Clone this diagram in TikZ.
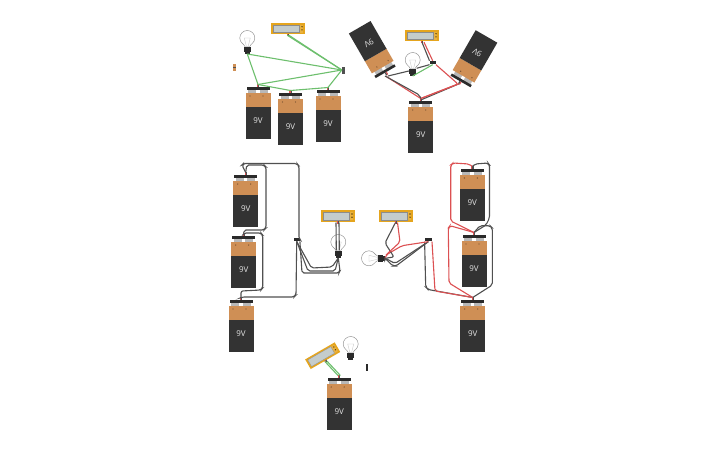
\documentclass[tikz,border=0pt]{standalone}
\usepackage{fontspec}
\setmainfont{Open Sans}
\definecolor{batdark}{HTML}{333333}
\definecolor{batorange}{HTML}{CF8F55}
\definecolor{batgray}{HTML}{B8B8B8}
\definecolor{barblack}{HTML}{2A2A2A}
\definecolor{meterrim}{HTML}{E5A51E}
\definecolor{meterlcd}{HTML}{C4CCCC}
\definecolor{wgreen}{HTML}{6DBF6D}
\definecolor{wred}{HTML}{DC5052}
\definecolor{wdark}{HTML}{505050}
\tikzset{
  x=1pt,y=-1pt,
  wiregreen/.style={draw=wgreen,line width=1.1pt,line join=round},
  wirered/.style={draw=wred,line width=1.1pt,rounded corners=2pt},
  wiredark/.style={draw=wdark,line width=1.1pt,rounded corners=2pt},
  label9v/.style={text=white!90!black,font=\fontsize{8}{9}\selectfont,inner sep=0pt,transform shape},
  smallpart/.style={fill=#1,draw=none,inner sep=0pt,transform shape},
}
% name, x, y, rotation
\newcommand{\battery}[4]{%
  \begin{scope}[shift={(#2,#3)},rotate=#4]
    \fill[batgray] (-10,2) rectangle (-2,7);
    \fill[batgray] (1.5,2) rectangle (9.5,7);
    \fill[barblack] (-11.5,0) rectangle (11.5,2.6);
    \fill[batorange] (-12.5,6) rectangle (12.5,20);
    \fill[batdark] (-12.5,20) rectangle (12.5,52);
    \fill[black!45!batorange] (-8,9) circle (.7) (5,9) circle (.7);
    \node[label9v] (#1-label) at (0,33.5) {9V};
    \fill[wred] (-1.2,-3) rectangle (0,0);
    \fill[wdark] (0,-3) rectangle (1.2,0);
    \coordinate (#1-t) at (0,-2.5);
  \end{scope}}
% name, x, y, rotation
\newcommand{\meter}[4]{%
  \begin{scope}[shift={(#2,#3)},rotate=#4]
    \node[draw=meterrim,line width=1.6pt,fill=meterrim!85!white,minimum width=32.5pt,minimum height=9.5pt,inner sep=0pt,transform shape] (#1) at (0,0) {};
    \fill[meterlcd,draw=black!45,line width=.3pt] (-15,-3.8) rectangle (11.5,3.8);
    \fill[black!55!meterrim] (14,-2) circle (.8) (14,1.2) circle (.8);
    \fill[wred] (-1.2,5.2) rectangle (0,7.5);
    \fill[wdark] (0,5.2) rectangle (1.2,7.5);
    \coordinate (#1-p) at (0,6.5);
  \end{scope}}
% name, x, y of base centre, rotation
\newcommand{\bulb}[4]{%
  \begin{scope}[shift={(#2,#3)},rotate=#4]
    \draw[black!45,line width=.45pt,fill=white] (-2.5,-3.5) .. controls (-3,-6) and (-7.5,-7) .. (-7.5,-12) arc[start angle=180,end angle=360,radius=7.5] .. controls (7.5,-7) and (3,-6) .. (2.5,-3.5) -- cycle;
    \draw[black!22,line width=.35pt] (-1,-4) -- (-3,-12) -- (3,-12) -- (1,-4);
    \node[fill=barblack,minimum width=7.5pt,minimum height=5pt,inner sep=0pt,transform shape] (#1) at (0,-1) {};
    \fill[barblack] (-2.5,1) rectangle (2.5,4);
    \coordinate (#1-p) at (0,4);
  \end{scope}}
\begin{document}
\begin{tikzpicture}
\useasboundingbox[fill=white] (0,0) rectangle (725,453);
% ---------- group A
\battery{a1}{258}{87}{0}
\battery{a2}{290.5}{93}{0}
\battery{a3}{328}{90}{0}
\meter{m1}{288}{28.7}{0}
\bulb{b1}{247.3}{50}{0}
\node[smallpart=wdark,minimum width=3pt,minimum height=7pt] (s1) at (343.5,70) {};
\node[smallpart=batorange,minimum width=2.5pt,minimum height=7pt] (r1) at (234.7,67.3) {};
\fill[wdark] (233.4,66.5) rectangle (236,68);
\foreach \o/\p in {(b1-p)/(a1-t),(b1-p)/(s1.west),(a1-t)/(s1.west),(a1-t)/(a2-t),(a2-t)/(a3-t),(a3-t)/(s1.west)}
  \draw[wiregreen] \o -- \p;
\draw[wiregreen] ([xshift=-.8pt]m1-p) -- (s1.west);
\draw[wiregreen] ([xshift=.8pt]m1-p) -- (s1.west);
% ---------- group B
\battery{a4}{420.7}{101}{0}
\battery{a5}{385.7}{72.3}{210}
\battery{a6}{460.5}{81.5}{150}
\meter{m2}{422}{35.7}{0}
\bulb{b2}{412.7}{72}{0}
\node[smallpart=barblack,minimum width=6pt,minimum height=3.5pt] (s2) at (432.7,62.7) {};
\draw[wiredark] (m2-p) -- (s2.north west);
\draw[wirered] ([xshift=2pt]m2-p) -- (s2.north);
\draw[wiredark] (a6-t) -- ([yshift=-1.5pt]a4-t);
\draw[wirered] (s2.south east) -- (458,84) -- (a4-t);
\draw[wirered] (a6-t) -- (a4-t);
\draw[wirered] (385.5,76) -- (a4-t);
\draw[wiredark] (385,76) -- (419.5,95) -- (a4-t);
\draw[wiredark] (388,76) -- (b2.west);
\draw[wiredark] (b2.north east) -- (s2.south west);
\draw[wiregreen] (b2-p) -- (s2.south);
% ---------- group C
\battery{c1}{245.7}{175}{0}
\battery{c2}{243.7}{236}{0}
\battery{c3}{241}{300}{0}
\meter{m3}{338}{216}{0}
\bulb{b3}{338.3}{254}{0}
\node[smallpart=barblack,minimum width=6pt,minimum height=3pt] (s3) at (296.7,239.7) {};
\draw[wiredark] (c1-t) -- (242,165) -- (243.5,163.5) -- (297,163.5) -- (299,166) -- (299,180) -- (299,239) -- (s3.east);
\draw[wiredark] (c1-t) -- (246.7,165) -- (264,165) -- (266,167) -- (266,228) -- (264,230) -- (244,230) -- (c2-t);
\draw[wiredark] (c2-t) -- (244,233) -- (261,233) -- (262.7,235) -- (262.7,288) -- (261,290) -- (241,291) -- (c3-t);
\draw[wiredark] (c3-t) -- (242,297) -- (294,297) -- (296,295) -- (s3.south);
\draw[wiredark] (s3.south) -- (311.5,268) -- (332,267) -- (b3-p);
\draw[wiredark] (s3.south) -- (308,271) -- (335,271) -- (b3-p);
\draw[wiredark] (s3.south east) -- (302,273) -- (339,273) -- (340,271) -- (b3-p);
\draw[wiredark] ([xshift=-2pt]m3-p) -- ([xshift=-2pt]b3.north);
\draw[wiredark] ([xshift=1pt]m3-p) -- ([xshift=1pt]b3.north);
% ---------- group D
\battery{d1}{472.3}{169}{0}
\battery{d2}{474}{235}{0}
\battery{d3}{472.7}{300}{0}
\meter{m4}{396}{216}{0}
\bulb{b4}{381}{258.3}{90}
\node[smallpart=barblack,minimum width=7pt,minimum height=3.5pt] (s4) at (428.3,239.7) {};
\draw[wirered] (d1-t) -- (469,164) -- (453,163) -- (450.7,165) -- (450.7,221) -- (d2-t);
\draw[wiredark] (d1-t) -- (475,164) -- (488,163) -- (489.5,165) -- (489.5,218) -- (486,225) -- (d2-t);
\draw[wirered] (d2-t) -- (450,225.7) -- (448.3,228) -- (449,283) -- (d3-t);
\draw[wiredark] (d2-t) -- (480,225.7) -- (490,225.7) -- (492.3,228) -- (492.3,285) -- (d3-t);
\draw[wiredark] (s4.south west) -- (425.7,287) -- (428,289.5) -- (d3-t);
\draw[wirered] (s4.south east) -- (435,291) -- (d3-t);
\draw[wiredark] (s4.south) -- (396,266) -- (393,266) -- (b4-p);
\draw[wiredark] (s4.south) -- (395,263.5) -- (385,258) -- (b4-p);
\draw[wirered] (s4.south) -- (402,245.7) -- (386,255) -- (b4-p);
\draw[wiredark] ([xshift=-.5pt]m4-p) -- (385,243) -- (394,257) -- (b4-p);
\draw[wirered] ([xshift=1.5pt]m4-p) -- (400,242) -- (386,255);
% ---------- group E
\battery{e1}{339.2}{378}{0}
\meter{m5}{322.7}{355.7}{30}
\bulb{b5}{350.7}{356}{0}
\node[smallpart=barblack,minimum width=2.5pt,minimum height=7pt] (r2) at (367,367.3) {};
\draw[wiregreen] ([xshift=-1.2pt]m5-p) -- ([xshift=-1.2pt]e1-t);
\draw[wiregreen] ([xshift=1.2pt]m5-p) -- ([xshift=1.2pt]e1-t);
\end{tikzpicture}
\end{document}
